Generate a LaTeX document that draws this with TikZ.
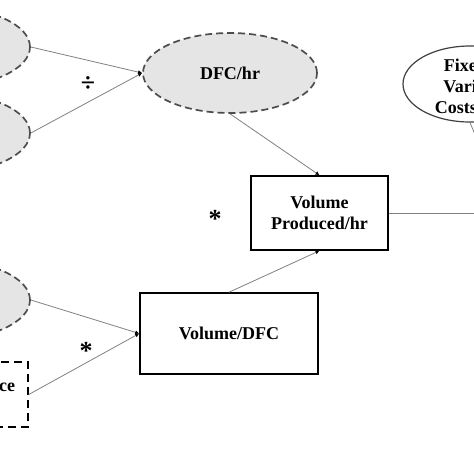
\documentclass[tikz,border=0pt]{standalone}
\usepackage{fontspec}
\setmainfont{Liberation Serif}
\usetikzlibrary{arrows.meta,shapes,positioning}
\tikzstyle{every node}=[font=\bfseries\fontsize{18}{21}\selectfont,inner sep=0pt]
\tikzstyle{rate}=[ellipse,draw=black!70,line width=1.7pt,dash pattern=on 7pt off 4pt,fill=black!10,minimum width=174pt,minimum height=80pt]
\tikzstyle{cost}=[ellipse,draw=black!75,line width=1.2pt,fill=white,minimum width=134pt,minimum height=76pt]
\tikzstyle{block}=[rectangle,draw=black,line width=1.5pt,fill=white,align=center]
\tikzstyle{given}=[rectangle,draw=black,line width=1.5pt,dash pattern=on 8pt off 5pt,minimum width=176pt,minimum height=65pt]
\tikzstyle{op}=[font=\bfseries\fontsize{26}{26}\selectfont]
\tikzstyle{link}=[draw=black!50,line width=0.8pt,-{Latex[black,length=4pt,width=4pt]}]
\tikzstyle{wire}=[draw=black!50,line width=0.8pt]

\begin{document}
\begin{tikzpicture}[x=1pt,y=-1pt]
  \useasboundingbox (0,0) rectangle (474,474);
  \clip (0,0) rectangle (474,474);

  % inputs on the left (cut by the frame)
  \node[rate] (rateA) at (-57,47) {};
  \node[rate] (rateB) at (-57,133) {};
  \node[rate] (rateC) at (-57,300) {};
  \node[given] (priceD) at (-60,394.5) {};
  \node[anchor=west] (priceText) at (-1,387) {ce};

  % derived quantities
  \node[rate] (dfcHr) at (230,73) {DFC/hr};
  \node[block,minimum width=137pt,minimum height=74pt] (volHr) at (319.5,213) {Volume\\Produced/hr};
  \node[block,minimum width=178pt,minimum height=81pt] (volDfc) at (229,333.5) {Volume/DFC};

  % costs on the right (cut by the frame)
  \node[cost] (costs) at (470,84) {};
  \node[anchor=east,align=right] (costText) at (477,86) {Fixe\\Vari\\Costs};
  \coordinate (outR) at (500,213);
  \coordinate (outC) at (490,170);

  % operators
  \node[op] (divOp) at (88,84) {÷};
  \node[op] (mulA) at (215,219) {*};
  \node[op] (mulB) at (86,351) {*};

  \draw[link] (rateA.east) -- (dfcHr.west);
  \draw[link] (rateB.east) -- (dfcHr.west);
  \draw[link] (dfcHr.south) -- (volHr.north);
  \draw[link] (rateC.east) -- (volDfc.west);
  \draw[link] (priceD.east) -- (volDfc.west);
  \draw[link] (volDfc.north) -- (volHr.south);
  \draw[wire] (volHr.east) -- (outR);
  \draw[wire] (costs.south) -- (outC);
\end{tikzpicture}
\end{document}
